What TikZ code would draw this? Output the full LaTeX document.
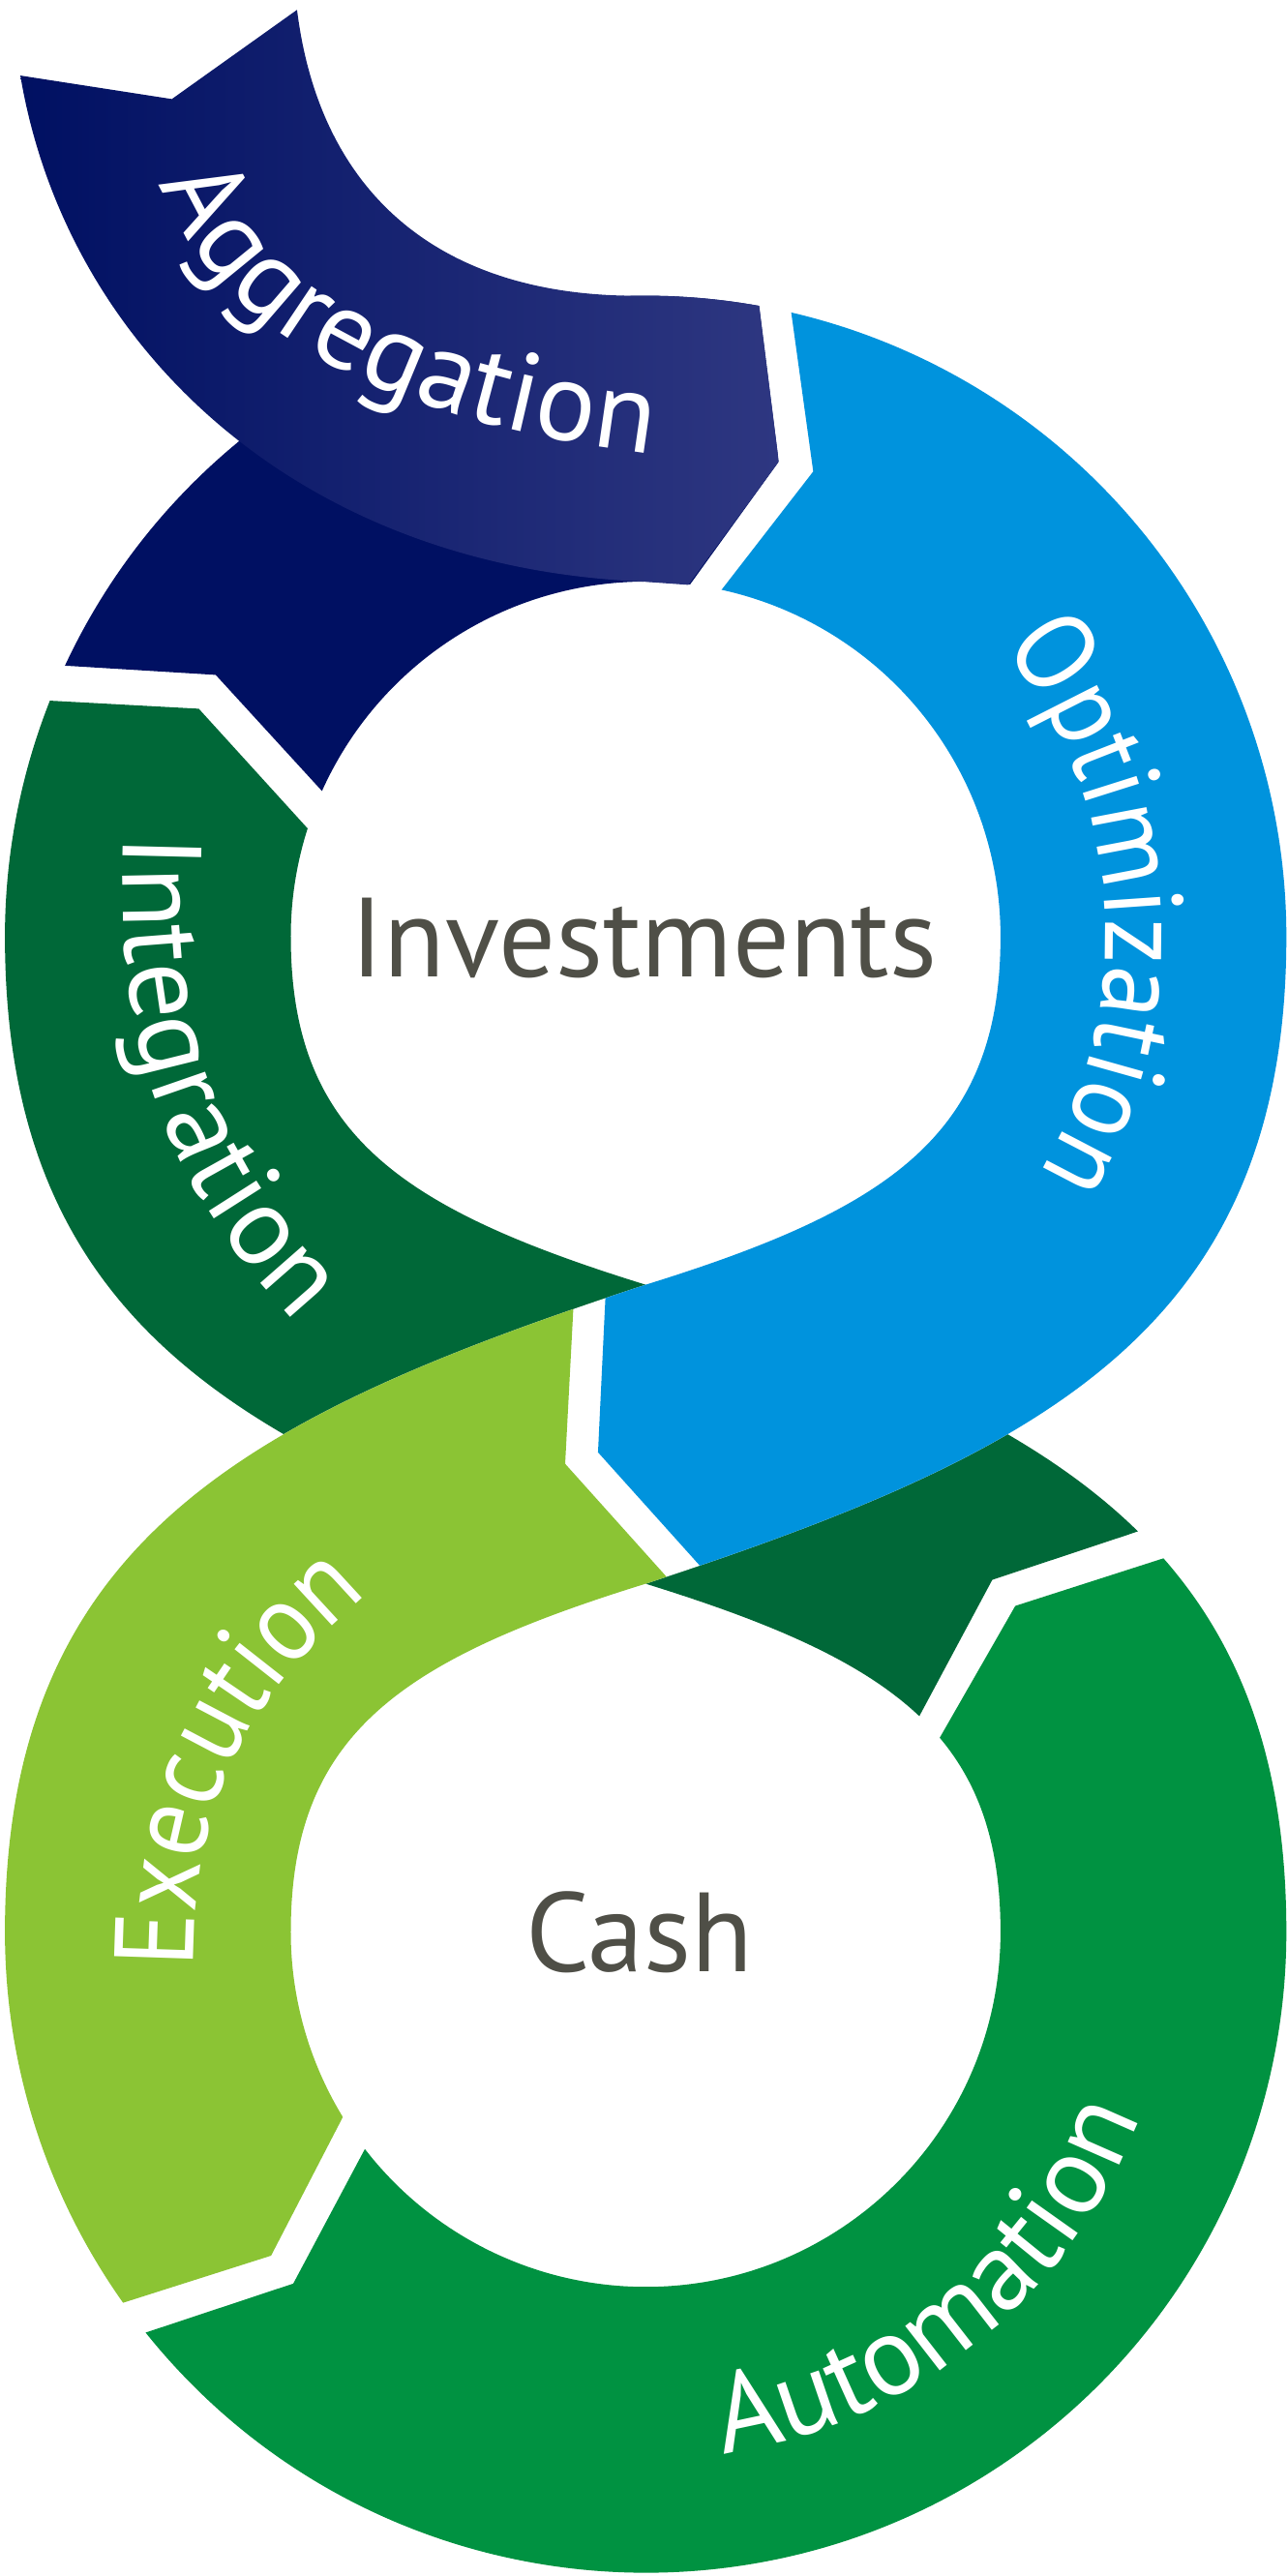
\documentclass[tikz,border=0pt]{standalone}
\usepackage{fontspec}
\setmainfont{PT Sans}
\newfontfamily\narrowfont[FakeStretch=0.9]{PT Sans}
\usepackage{tikz}
\usetikzlibrary{decorations.text}

\definecolor{navy}{HTML}{001062}
\definecolor{aggright}{HTML}{2E3781}
\definecolor{optblue}{HTML}{0093DD}
\definecolor{intgreen}{HTML}{006838}
\definecolor{exegreen}{HTML}{8BC434}
\definecolor{autgreen}{HTML}{009241}
\definecolor{hubgray}{HTML}{4F4F47}

\newcommand{\labelfont}{\fontsize{39}{45}\selectfont\color{white}}
\newcommand{\narrowlabelfont}{\narrowfont\fontsize{39}{45}\selectfont\color{white}}
\newcommand{\crosspath}{([shift={(260:390)}]U) arc[start angle=260, end angle=360, radius=390] .. controls (783,810) and (633,885) .. (393,964) .. controls (243,1010.5) and (177,1056) .. (177,1176) arc[start angle=180, end angle=120, radius=216] -- ([shift={(120:390)}]L) arc[start angle=120, end angle=180, radius=390] .. controls (3,936) and (153,861) .. (393,782) .. controls (543,735.5) and (609,690) .. (609,570) arc[start angle=360, end angle=260, radius=216] -- cycle}

\tikzset{
  hubtext/.style={font=\fontsize{39}{45}\selectfont, text=hubgray, inner sep=0pt}
}

\begin{document}
\begin{tikzpicture}[x=0.02cm, y=-0.02cm]
  \useasboundingbox (0,0) rectangle (784,1568);
  \coordinate (U) at (393,570);
  \coordinate (L) at (393,1176);

  % integration band, runs under the crossing
  \begin{scope}
    \clip (-30,423) -- (30.5,426.5) -- (121,431.4) -- (187,504) -- (230,551) -- (500,700) -- (800,700) -- (800,896) -- (767,907) -- (685.6,934.5) -- (604,961.6) -- (556.7,1050) -- (510,1138) -- (510,1300) -- (-30,1300) -- cycle;
    \fill[intgreen] (3,570) .. controls (3,810) and (153,885) .. (393,964) .. controls (543,1010.5) and (609,1056) .. (609,1176) -- (783,1176) .. controls (783,936) and (633,861) .. (393,782) .. controls (243,735.5) and (177,690) .. (177,570) arc[start angle=180, end angle=215, radius=216] -- ([shift={(215:390)}]U) arc[start angle=215, end angle=180, radius=390] -- cycle;
  \end{scope}
  \fill[white] \crosspath;

  % optimization
  \begin{scope}
    \clip (476,-50) -- (476,150) -- (482,193) -- (495,287) -- (440,358) -- (400,410) -- (373,700) -- (368.5,790) -- (364,884) -- (426,953) -- (470,1002) -- (850,1002) -- (850,-50) -- cycle;
    \fill[optblue] \crosspath;
  \end{scope}

  % execution
  \begin{scope}
    \clip (-50,700) -- (353.5,710) -- (349,796) -- (344,891) -- (405,959) -- (450,1010) -- (450,1100) -- (253,1203) -- (209,1288) -- (165,1373) -- (77,1401) -- (-11,1429) -- (-50,1429) -- cycle;
    \fill[exegreen] \crosspath;
  \end{scope}

  % automation
  \begin{scope}
    \clip (850,903) -- (700.5,951) -- (618,977.5) -- (569,1063) -- (520,1148.5) -- (-50,1148.5) -- (-50,1650) -- (850,1650) -- cycle;
    \fill[autgreen] ([shift={(142.3:216)}]L) -- (178.5,1390) -- ([shift={(141.3:390)}]L) arc[start angle=141.3, end angle=0, radius=390] .. controls (783,936) and (633,861) .. (393,782) -- (393,964) .. controls (543,1010.5) and (609,1056) .. (609,1176) arc[start angle=0, end angle=142.3, radius=216] -- cycle;
  \end{scope}

  % navy piece under aggregation
  \fill[navy] ([shift={(205:390)}]U) -- (131.3,410.8) -- ([shift={(204.2:216)}]U) arc[start angle=204.2, end angle=277.2, radius=216] -- (474,281) -- ([shift={(280.2:390)}]U) arc[start angle=280.2, end angle=205, radius=390] -- cycle;

  % aggregation arrow
  \shade[left color=navy, right color=aggright] (12.4,46) -- (104.6,60.3) -- (180.8,6) .. controls (195,120) and (270,181) .. ([shift={(269.6:390)}]U) arc[start angle=269.6, end angle=280.2, radius=390] -- (474,281) -- (419,356) -- (391,354) .. controls (180,345) and (40,210) .. (12.4,46) -- cycle;

  % band labels
  \path[decorate, decoration={text along path, text={|\labelfont|Aggregation}}] (97,112) .. controls (132,200) and (232,262) .. (430,280);
  \path[decorate, decoration={text along path, text align=center, text={|\narrowlabelfont|Optimization}}] ([shift={(296:280)}]U) arc[start angle=296, end angle=416, radius=280];
  \path[decorate, decoration={text along path, text={|\labelfont|Integration}}] (75,508) .. controls (70,640) and (100,730) .. (205,830);
  \path[decorate, decoration={text along path, text={|\narrowlabelfont|Execution}}] (118,1198) .. controls (118,1090) and (150,1025) .. (255,945);
  \path[decorate, decoration={text along path, text align=center, text={|\labelfont|Automation}}] ([shift={(106:321)}]L) arc[start angle=106, end angle=-4, radius=321];

  % hub texts
  \node (invest) [hubtext] at (392,571) {Investments};
  \node (cash) [hubtext] at (389,1176) {Cash};
\end{tikzpicture}
\end{document}
